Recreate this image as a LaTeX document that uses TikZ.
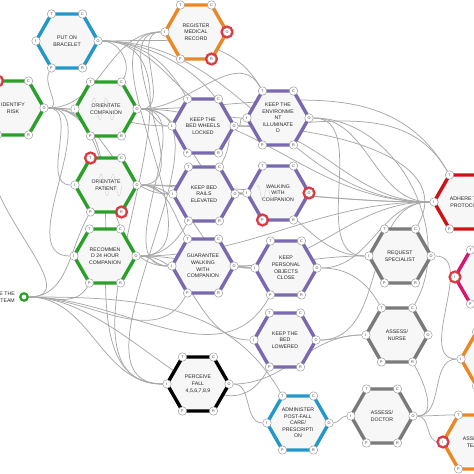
\documentclass[tikz,border=0pt]{standalone}
\usepackage{fontspec}
\setmainfont{Liberation Sans}
\pgfdeclarelayer{bg}
\pgfsetlayers{bg,main}
\definecolor{fblue}{RGB}{35,152,200}
\definecolor{forange}{RGB}{232,136,38}
\definecolor{fgreen}{RGB}{42,160,42}
\definecolor{fpurple}{RGB}{122,104,176}
\definecolor{fgray}{RGB}{122,122,122}
\definecolor{fred}{RGB}{205,20,20}
\definecolor{fmag}{RGB}{215,22,112}
\definecolor{ringred}{RGB}{226,52,62}
\definecolor{hexfill}{RGB}{247,247,247}
\definecolor{lgray}{RGB}{168,168,168}
\tikzset{
 hexe/.style={line width=3.4pt, line join=miter, fill=hexfill},
 hextext/.style={font=\fontsize{5.2}{6.6}\selectfont, align=center, text=black!85, inner sep=0pt},
 asp/.style={circle, draw=gray!80, fill=white, line width=0.45pt, minimum size=8.5pt, inner sep=0pt, font=\fontsize{3.8}{4}\selectfont, text=black!75},
 conn/.style={draw=lgray, line width=0.75pt},
 redring/.style={draw=ringred, line width=2pt},
 wave/.style={draw=gray!35, line width=0.4pt},
}
\newcommand\fram[5]{%
 \begin{scope}[shift={(#2,{474-#3})}]
 \draw[hexe,draw=#4] (-15.5,27)--(15.5,27)--(31,0)--(15.5,-27)--(-15.5,-27)--(-31,0)--cycle;
 \node[hextext] (#1) at (0,0) {#5};
 \node[asp] (#1-T) at (-15.5,27) {T};
 \node[asp] (#1-C) at (15.5,27) {C};
 \node[asp] (#1-I) at (-31,0) {I};
 \node[asp] (#1-O) at (31,0) {O};
 \node[asp] (#1-P) at (-15.5,-27) {P};
 \node[asp] (#1-R) at (15.5,-27) {R};
 \end{scope}}
\newcommand\lk[3]{\draw[conn] (#1-O) to[out=0,in=#3] (#2);}
\begin{document}
\begin{tikzpicture}[x=1pt,y=1pt]
\useasboundingbox (0,0) rectangle (474,474);
\clip (0,0) rectangle (474,474);
% functions
\fram{PB}{67}{41}{fblue}{PUT ON\\BRACELET}
\fram{RM}{196}{32}{forange}{REGISTER\\MEDICAL\\RECORD}
\fram{IR}{13}{108}{fgreen}{IDENTIFY\\RISK}
\fram{OC}{106}{109}{fgreen}{ORIENTATE\\COMPANION}
\fram{OP}{106}{185}{fgreen}{ORIENTATE\\PATIENT}
\fram{RC}{105}{256}{fgreen}{RECOMMEN\\D 24 HOUR\\COMPANION}
\fram{BW}{203}{126}{fpurple}{KEEP THE\\BED WHEELS\\LOCKED}
\fram{EI}{278}{118}{fpurple}{KEEP THE\\ENVIRONME\\NT\\ILLUMINATE\\D}
\fram{BR}{204}{194}{fpurple}{KEEP BED\\RAILS\\ELEVATED}
\fram{WC}{278}{193}{fpurple}{WALKING\\WITH\\COMPANION}
\fram{GW}{203}{266}{fpurple}{GUARANTEE\\WALKING\\WITH\\COMPANION}
\fram{KP}{286}{268}{fpurple}{KEEP\\PERSONAL\\OBJECTS\\CLOSE}
\fram{BL}{285}{340}{fpurple}{KEEP THE\\BED\\LOWERED}
\fram{RS}{400}{256}{fgray}{REQUEST\\SPECIALIST}
\fram{AN}{397}{335}{fgray}{ASSESS/\\NURSE}
\fram{AD}{382}{416}{fgray}{ASSESS/\\DOCTOR}
\fram{PF}{198}{384}{black}{PERCEIVE\\FALL\\4,5,6,7,8,9}
\fram{AC}{298}{423}{fblue}{ADMINISTER\\POST-FALL\\CARE/\\PRESCRIPTI\\ON}
\fram{ADH}{465}{202}{fred}{ADHERE TO\\PROTOCOL}
\fram{MG}{486}{277}{fmag}{}
\fram{OR}{492}{359}{forange}{}
\fram{AT}{474}{442}{forange}{ASSESS/\\TEAM}
\node[circle, draw=fgreen, line width=2.2pt, fill=white, minimum size=7.5pt, inner sep=0pt] (TM-O) at (24,177) {};
\node[hextext, align=right, anchor=east] (TM) at (15,177) {E THE\\TEAM};
% waves
\begin{scope}[shift={(103,365)}]\draw[wave] plot[domain=-12:12,samples=40] (\x,{11*sin(\x*30)});\end{scope}
\begin{scope}[shift={(110,289)}]\draw[wave] plot[domain=-12:12,samples=40] (\x,{11*sin(\x*30)});\end{scope}
\begin{scope}[shift={(265,281)}]\draw[wave] plot[domain=-8:8,samples=30] (\x,{8*sin(\x*40)});\end{scope}
% red rings
\foreach \a in {IR-T,RM-O,RM-R,OP-T,OP-R,WC-O,WC-P,MG-I,AT-I}{\draw[redring] (\a) circle (5.6);}
% connectors
\begin{pgfonlayer}{bg}
\fill[white] (0,0) rectangle (474,474);
\clip (0,0) rectangle (474,474);
\lk{IR}{OC-I}{180}
\lk{IR}{OP-I}{180}
\lk{IR}{RC-I}{180}
\lk{IR}{BW-I}{180}
\lk{IR}{RM-I}{180}
\lk{IR}{PB-P}{240}
\lk{IR}{BR-I}{180}
\lk{IR}{GW-I}{180}
\lk{IR}{PF-I}{180}
\lk{PB}{ADH-I}{180}
\lk{PB}{EI-I}{180}
\lk{PB}{EI-T}{120}
\lk{PB}{BW-T}{120}
\lk{PB}{BR-C}{60}
\lk{PB}{OC-C}{60}
\lk{PB}{PF-I}{180}
\lk{OC}{BW-I}{180}
\lk{OC}{WC-I}{180}
\lk{OC}{ADH-I}{180}
\lk{OC}{GW-I}{180}
\lk{OC}{ADH-T}{120}
\lk{OC}{RM-I}{180}
\lk{OC}{EI-T}{120}
\lk{OC}{PF-I}{180}
\lk{OP}{BR-I}{180}
\lk{OP}{ADH-I}{180}
\lk{OP}{WC-I}{180}
\lk{OP}{KP-I}{180}
\lk{OP}{RM-I}{180}
\lk{OP}{GW-T}{120}
\lk{RC}{GW-I}{180}
\lk{RC}{ADH-I}{180}
\lk{RC}{KP-I}{180}
\lk{RC}{BL-I}{180}
\lk{RC}{RM-I}{180}
\lk{RC}{BR-P}{240}
\lk{BW}{EI-I}{180}
\lk{BW}{ADH-I}{180}
\lk{BW}{ADH-T}{120}
\lk{BW}{RS-C}{60}
\lk{EI}{ADH-I}{180}
\lk{EI}{RS-I}{180}
\lk{EI}{AN-C}{60}
\lk{BR}{WC-I}{180}
\lk{BR}{ADH-I}{180}
\lk{BR}{RS-I}{180}
\lk{GW}{KP-I}{180}
\lk{GW}{ADH-I}{180}
\lk{GW}{RS-I}{180}
\lk{KP}{ADH-I}{180}
\lk{KP}{AN-T}{120}
\lk{BL}{ADH-I}{180}
\lk{BL}{AN-I}{180}
\lk{TM}{RC-P}{240}
\lk{TM}{GW-P}{240}
\lk{TM}{KP-P}{240}
\lk{TM}{PF-I}{180}
\lk{TM}{IR-P}{240}
\lk{TM}{OP-P}{240}
\lk{TM}{BL-P}{240}
\lk{TM}{AC-T}{120}
\lk{PF}{AC-I}{180}
\lk{PF}{AN-I}{180}
\lk{AC}{AD-I}{180}
\lk{AD}{AT-T}{180}
\lk{AD}{AT-I}{180}
\lk{AD}{OR-I}{180}
\lk{AD}{AN-R}{300}
\lk{RS}{OR-I}{180}
\end{pgfonlayer}
\end{tikzpicture}
\end{document}
